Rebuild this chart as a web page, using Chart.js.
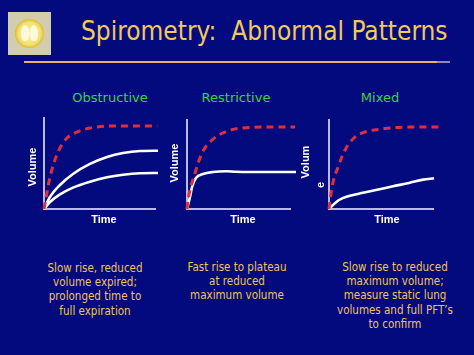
<!DOCTYPE html>
<html>
<head>
<meta charset="utf-8">
<script src="https://cdn.jsdelivr.net/npm/chart.js@4.4.1/dist/chart.umd.min.js"></script>
<style>
  html, body { margin: 0; padding: 0; }
  body { width: 474px; height: 355px; background: #030a7d; position: relative; overflow: hidden; }
  .abs { position: absolute; white-space: pre; }
  .c { transform: translate(-50%, -50%); }
  #title { left: 81px; top: 16px; font-family: "DejaVu Sans Condensed", "DejaVu Sans", sans-serif; font-size: 26px; color: #f2c95c; }
  .ctitle { font-family: "DejaVu Sans", sans-serif; font-size: 13px; color: #3ed23e; }
  .axt { font-family: "Liberation Sans", Arial, sans-serif; font-weight: bold; font-size: 11px; color: #ffffff; }
  .desc { font-family: "DejaVu Sans Condensed", "DejaVu Sans", sans-serif; font-size: 11.5px; color: #f0c45a; text-align: center; line-height: 14.2px; }
  canvas { position: absolute; }
  #logo { left: 8px; top: 12px; width: 43px; height: 43px; background: #d3cdb0; }
  #logo .ring { position: absolute; left: 7px; top: 7px; width: 29px; height: 29px; border-radius: 50%;
     background: radial-gradient(circle, #fbf3b0 0%, #f3e070 55%, #d8b21a 75%, #b08a10 100%); }
  #logo .lung { position: absolute; top: 13px; width: 8px; height: 16px; background: #fffbe6; opacity: 0.85; border-radius: 50% 50% 40% 40%; }
  #rule1 { left: 24px; top: 61px; width: 413px; height: 2px; background: #e6b45c; }
  #rule2 { left: 437px; top: 61px; width: 13px; height: 2px; background: #8a8cb0; }
</style>
</head>
<body>
<div id="logo" class="abs"><div class="ring"></div><div class="lung" style="left:13px"></div><div class="lung" style="left:22px"></div></div>
<div id="title" class="abs">Spirometry:  Abnormal Patterns</div>
<div id="rule1" class="abs"></div>
<div id="rule2" class="abs"></div>

<canvas id="c1" width="135" height="107" style="left:34px;top:110px"></canvas>
<canvas id="c2" width="127" height="105" style="left:177px;top:112px"></canvas>
<canvas id="c3" width="130" height="105" style="left:319px;top:112px"></canvas>

<div id="texts"></div>

<script>
// ---- Data (time and volume in arbitrary units, axes run 0..10) ----
const categories = ["Obstructive", "Restrictive", "Mixed"];
const axisX = "Time";
const axisY = "Volume";

// Obstructive
const obsNormalT = [0, 0.54, 1.26, 2.07, 2.97, 4.14, 6.2, 10.2];
const obsNormalV = [0, 3.5, 6.26, 7.8, 8.46, 8.9, 9.12, 9.12];
const obsUpperT  = [0, 0.54, 1.44, 2.61, 4.14, 5.68, 7.12, 8.65, 10.27];
const obsUpperV  = [0, 1.32, 2.64, 3.85, 4.95, 5.71, 6.15, 6.37, 6.4];
const obsLowerT  = [0, 0.54, 1.44, 2.61, 4.14, 5.68, 7.12, 8.65, 10.27];
const obsLowerV  = [0, 0.77, 1.6, 2.35, 3.0, 3.48, 3.76, 3.93, 3.96];

// Restrictive
const resNormalT = [0, 0.1, 0.78, 1.46, 2.43, 3.69, 5.34, 8.54, 10.49];
const resNormalV = [0, 1.0, 4.04, 6.29, 7.75, 8.65, 9.1, 9.21, 9.21];
const resPatT    = [0, 0.29, 0.49, 0.87, 1.55, 2.52, 3.79, 4.76, 6.12, 10.58];
const resPatV    = [0, 1.35, 2.47, 3.48, 3.93, 4.16, 4.24, 4.18, 4.16, 4.16];

// Mixed
const mixNormalT = [0, 0.29, 0.87, 1.54, 2.5, 3.46, 5.1, 7.6, 10.87];
const mixNormalV = [0, 2.47, 4.72, 6.63, 8.09, 8.65, 8.99, 9.21, 9.21];
const mixPatT    = [0, 0.38, 0.96, 1.92, 3.27, 4.52, 6.15, 7.69, 9.04, 10.1];
const mixPatV    = [0, 0.45, 1.01, 1.46, 1.82, 2.13, 2.55, 2.93, 3.3, 3.45];

const descriptions = [
  ["Slow rise, reduced", "volume expired;", "prolonged time to", "full expiration"],
  ["Fast rise to plateau", "at reduced", "maximum volume"],
  ["Slow rise to reduced", "maximum volume;", "measure static lung", "volumes and full PFT\u2019s", "to confirm"]
];

// ---- helpers ----
const pts = (t, v) => t.map((x, i) => ({ x: x, y: v[i] }));
const RED = "#dc3040";
const AXIS = "#b9bbdc";

function normalSet(t, v) {
  return { data: pts(t, v), borderColor: RED, borderWidth: 3, borderDash: [7, 5],
           cubicInterpolationMode: "monotone", pointRadius: 0, clip: false, fill: false };
}
function patSet(t, v) {
  return { data: pts(t, v), borderColor: "#ffffff", borderWidth: 2.6,
           cubicInterpolationMode: "monotone", pointRadius: 0, clip: false, fill: false };
}
function axisOpts() {
  return { type: "linear", min: 0, max: 10,
           ticks: { display: false },
           grid: { display: false, drawTicks: false },
           border: { display: true, color: AXIS, width: 2 },
           title: { display: false } };
}
function makeChart(id, datasets, pad) {
  return new Chart(document.getElementById(id), {
    type: "line",
    data: { datasets: datasets },
    options: {
      responsive: false, animation: false, events: [],
      layout: { padding: pad },
      plugins: { legend: { display: false }, tooltip: { enabled: false }, title: { display: false } },
      scales: { x: axisOpts(), y: axisOpts() }
    }
  });
}

makeChart("c1", [normalSet(obsNormalT, obsNormalV), patSet(obsUpperT, obsUpperV), patSet(obsLowerT, obsLowerV)],
          { left: 10, right: 14, top: 8, bottom: 8 });
makeChart("c2", [normalSet(resNormalT, resNormalV), patSet(resPatT, resPatV)],
          { left: 10, right: 14, top: 8, bottom: 8 });
makeChart("c3", [normalSet(mixNormalT, mixNormalV), patSet(mixPatT, mixPatV)],
          { left: 10, right: 16, top: 8, bottom: 8 });

// ---- text ----
const host = document.getElementById("texts");
function addText(txt, cls, x, y, rot) {
  const d = document.createElement("div");
  d.className = "abs c " + cls;
  d.textContent = txt;
  d.style.left = x + "px";
  d.style.top = y + "px";
  if (rot) d.style.transform = "translate(-50%, -50%) rotate(-90deg)";
  host.appendChild(d);
  return d;
}
const titlePos = [[110, 97], [236, 97], [380, 97]];
categories.forEach((c, i) => addText(c, "ctitle", titlePos[i][0], titlePos[i][1]));
const timePos = [[104, 219], [243, 219], [387, 219]];
timePos.forEach(p => addText(axisX, "axt", p[0], p[1]));
addText(axisY, "axt", 31.5, 167, true);
addText(axisY, "axt", 174, 163, true);
addText(axisY.slice(0, 5), "axt", 305, 162, true);
addText(axisY.slice(5), "axt", 320, 185, true);

const descX = [95, 237, 395];
const descTop = [261, 260, 260];
descriptions.forEach((lines, i) => {
  const d = document.createElement("div");
  d.className = "abs desc";
  d.textContent = lines.join("\n");
  d.style.left = descX[i] + "px";
  d.style.top = descTop[i] + "px";
  d.style.transform = "translateX(-50%)";
  host.appendChild(d);
});
</script>
</body>
</html>
